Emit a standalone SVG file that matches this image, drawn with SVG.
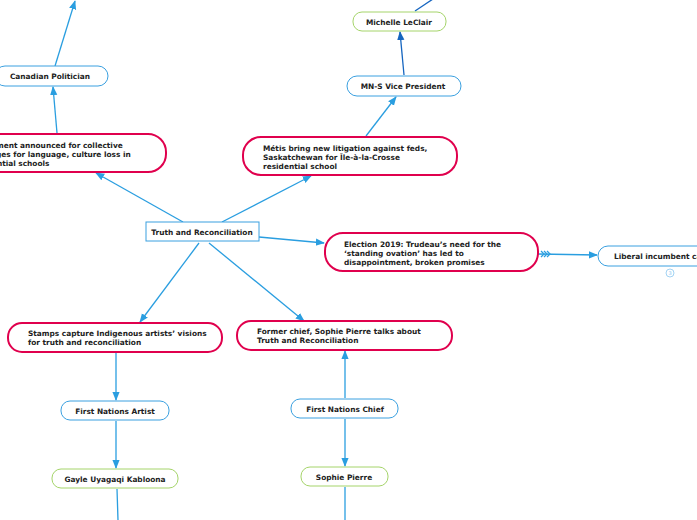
<svg xmlns="http://www.w3.org/2000/svg" width="697" height="520" viewBox="0 0 697 520">
<defs>
<style>
text{font-family:"DejaVu Sans",Verdana,sans-serif;font-weight:bold;font-size:7.4px;fill:#222}
.c{text-anchor:middle}
.pk{fill:#fff;stroke:#e0004d;stroke-width:2}
.bl{fill:#fff;stroke:#3aa0e0;stroke-width:1}
.gr{fill:#fff;stroke:#a5d46a;stroke-width:1}
.ln{stroke:#2a9ee0;stroke-width:1.3;fill:none}
.dk{stroke:#1565c0;stroke-width:1.3;fill:none}
</style>
<marker id="a" viewBox="0 0 10 10" refX="9" refY="5" markerWidth="7" markerHeight="7" orient="auto"><path d="M0,1 L10,5 L0,9 Z" fill="#2a9ee0"/></marker>
<marker id="d" viewBox="0 0 10 10" refX="9" refY="5" markerWidth="7" markerHeight="7" orient="auto"><path d="M0,1 L10,5 L0,9 Z" fill="#1565c0"/></marker>
</defs>
<rect width="697" height="520" fill="#fff"/>
<g id="connectors">
<line class="ln" x1="183" y1="222" x2="96" y2="173" marker-end="url(#a)"/>
<line class="ln" x1="57" y1="133" x2="53" y2="87" marker-end="url(#a)"/>
<line class="ln" x1="55" y1="66" x2="75" y2="1" marker-end="url(#a)"/>
<line class="ln" x1="222" y1="222" x2="311" y2="176" marker-end="url(#a)"/>
<line class="ln" x1="366" y1="136" x2="396" y2="97" marker-end="url(#a)"/>
<line class="dk" x1="404" y1="75" x2="400" y2="32" marker-end="url(#d)"/>
<line class="dk" x1="415" y1="11" x2="433" y2="-1"/>
<line class="ln" x1="259" y1="237" x2="324" y2="243" marker-end="url(#a)"/>
<line class="ln" x1="538" y1="254" x2="597" y2="255" marker-end="url(#a)"/>
<path class="ln" d="M541,251 L544,254 L541,257 M544,251 L547,254 L544,257 M547,251 L550,254 L547,257"/>
<line class="ln" x1="199" y1="243" x2="140" y2="322" marker-end="url(#a)"/>
<line class="ln" x1="209" y1="243" x2="304" y2="321" marker-end="url(#a)"/>
<line class="ln" x1="116" y1="353" x2="116" y2="400" marker-end="url(#a)"/>
<line class="ln" x1="116" y1="421" x2="116" y2="468" marker-end="url(#a)"/>
<line class="ln" x1="117" y1="489" x2="118" y2="520"/>
<line class="ln" x1="345" y1="398" x2="345" y2="351" marker-end="url(#a)"/>
<line class="ln" x1="345" y1="419" x2="345" y2="466" marker-end="url(#a)"/>
<line class="ln" x1="345" y1="487" x2="345" y2="520"/>
</g>
<g id="central"><rect class="bl" x="146" y="222" width="113" height="19"/><text class="c" x="202" y="235">Truth and Reconciliation</text></g>
<g id="settlement"><rect class="pk" x="-30" y="134" width="196" height="38" rx="18"/><text x="-29" y="148">Settlement announced for collective</text><text x="-27" y="157">damages for language, culture loss in</text><text x="-29" y="166">residential schools</text></g>
<g id="canpol"><rect class="bl" x="-5" y="66" width="113" height="20" rx="10"/><text class="c" x="50" y="79">Canadian Politician</text></g>
<g id="metis"><rect class="pk" x="243" y="137" width="214" height="38" rx="18"/><text x="263" y="151">Métis bring new litigation against feds,</text><text x="263" y="160">Saskatchewan for Île-à-la-Crosse</text><text x="263" y="169">residential school</text></g>
<g id="mns"><rect class="bl" x="347" y="76" width="114" height="20" rx="10"/><text class="c" x="403" y="89">MN-S Vice President</text></g>
<g id="leclair"><rect class="gr" x="353" y="12" width="93" height="19" rx="9"/><text class="c" x="399" y="25">Michelle LeClair</text></g>
<g id="election"><rect class="pk" x="325" y="233" width="213" height="38" rx="18"/><text x="344" y="247">Election 2019: Trudeau’s need for the</text><text x="344" y="256">‘standing ovation’ has led to</text><text x="344" y="265">disappointment, broken promises</text></g>
<g id="liberal"><rect class="bl" x="598" y="246" width="112" height="20" rx="10"/><text x="614" y="259">Liberal incumbent candidate</text><circle cx="670" cy="273" r="4" fill="#fff" stroke="#8cc8f0" stroke-width="0.8"/><text class="c" x="670" y="275" style="font-size:5px;fill:#8cc8f0;font-weight:normal">3</text></g>
<g id="stamps"><rect class="pk" x="8" y="323" width="214" height="29" rx="14"/><text x="28" y="336">Stamps capture Indigenous artists’ visions</text><text x="28" y="345">for truth and reconciliation</text></g>
<g id="former"><rect class="pk" x="237" y="321" width="215" height="29" rx="14"/><text x="257" y="334">Former chief, Sophie Pierre talks about</text><text x="257" y="343">Truth and Reconciliation</text></g>
<g id="artist"><rect class="bl" x="61" y="401" width="108" height="19" rx="9"/><text class="c" x="115" y="414">First Nations Artist</text></g>
<g id="gayle"><rect class="gr" x="52" y="469" width="126" height="19" rx="9"/><text class="c" x="115" y="482">Gayle Uyagaqi Kabloona</text></g>
<g id="chief"><rect class="bl" x="291" y="399" width="107" height="19" rx="9"/><text class="c" x="345" y="412">First Nations Chief</text></g>
<g id="sophie"><rect class="gr" x="301" y="467" width="87" height="19" rx="9"/><text class="c" x="344" y="480">Sophie Pierre</text></g>
</svg>
